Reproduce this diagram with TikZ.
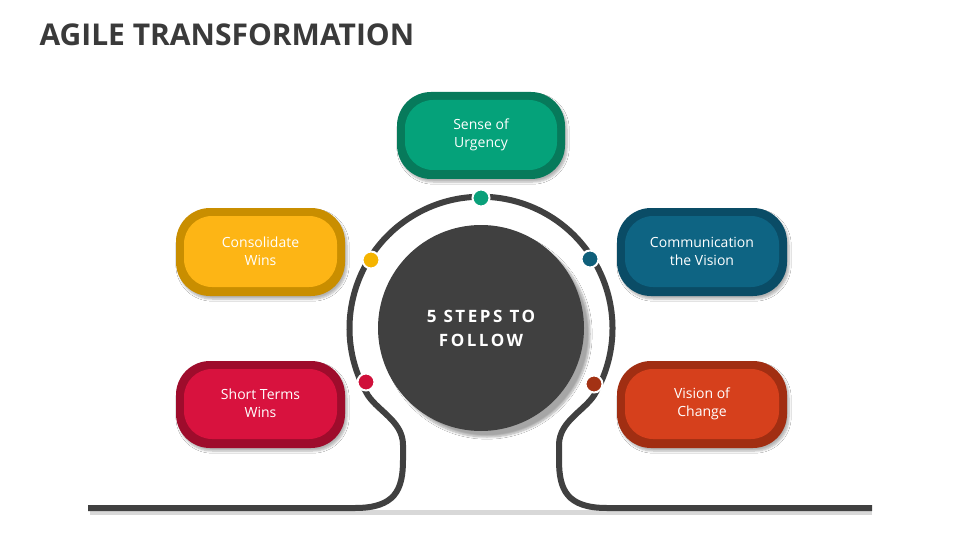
\documentclass[tikz,border=0pt]{standalone}
\usepackage{fontspec}
\setmainfont{Open Sans}
\usetikzlibrary{shadows.blur}
\definecolor{ring}{HTML}{404040}
\definecolor{title}{HTML}{3A3A3A}
\tikzset{
  outerbox/.style={rounded corners=34pt, blur shadow={shadow xshift=2pt,shadow yshift=-3pt,shadow blur steps=6,shadow opacity=30}},
  innerbox/.style={rounded corners=28pt},
  lbl/.style={text=white, font=\fontsize{14}{18}\selectfont, align=center},
  dot/.style={circle, draw=white, line width=2pt, minimum size=17pt, inner sep=0pt},
}
\begin{document}
\begin{tikzpicture}[x=1pt,y=-1pt]
\useasboundingbox (0,0) rectangle (960,540);
\fill[white] (0,0) rectangle (960,540);
\node[anchor=west, text=title, font=\bfseries\fontsize{30}{34}\selectfont] (t) at (36,35) {AGILE TRANSFORMATION};
% connector path
\draw[ring!40, line width=5pt, opacity=.5] (90,512) -- (872,512);
\draw[ring, line width=6pt]
  (88,508) -- (355,508) .. controls (395,508) and (403,490) .. (403,460) -- (403,445)
  .. controls (403,420) and (375,410) .. (366,392)
  arc[start angle=151, end angle=389, radius=131.5]
  .. controls (587,410) and (559,420) .. (559,445) -- (559,460)
  .. controls (559,490) and (567,508) .. (607,508) -- (872,508);
% centre
\node[circle, fill=ring, minimum size=206pt, inner sep=0pt, blur shadow={shadow xshift=6pt,shadow yshift=-6pt,shadow blur steps=10,shadow opacity=35}, text=white, align=center, font=\bfseries\fontsize{17}{24}\selectfont] (c) at (481,328) {\addfontfeature{LetterSpace=15}5 STEPS TO\\\addfontfeature{LetterSpace=15}FOLLOW};
% dots
\node[dot, fill={rgb,255:red,10;green,160;blue,122}] (d1) at (481,198) {};
\node[dot, fill={rgb,255:red,245;green,180;blue,0}] (d2) at (371,260) {};
\node[dot, fill={rgb,255:red,15;green,95;blue,122}] (d3) at (590,259) {};
\node[dot, fill={rgb,255:red,208;green,16;blue,58}] (d4) at (366,382) {};
\node[dot, fill={rgb,255:red,163;green,50;blue,20}] (d5) at (594,384) {};
% boxes
\newcommand{\stepbox}[7]{%
  \fill[outerbox, fill=#5] (#1,#2) rectangle (#3,#4);
  \fill[innerbox, fill=#6] (#1+8,#2+8) rectangle (#3-8,#4-9);
  \node[lbl] at ({(#1+#3)/2},{(#2+#4)/2-1}) {#7};}
\definecolor{go}{HTML}{077A5B}\definecolor{gi}{HTML}{05A27A}
\definecolor{yo}{HTML}{C98E00}\definecolor{yi}{HTML}{FDB515}
\definecolor{bo}{HTML}{0A4C66}\definecolor{bi}{HTML}{0E6483}
\definecolor{ro}{HTML}{9E0C2C}\definecolor{ri}{HTML}{D8123E}
\definecolor{oo}{HTML}{A12E12}\definecolor{oi}{HTML}{D6401C}
\stepbox{397}{92}{565}{179}{go}{gi}{Sense of\\Urgency}
\stepbox{176}{208}{345}{296}{yo}{yi}{Consolidate\\Wins}
\stepbox{617}{208}{787}{296}{bo}{bi}{Communication\\the Vision}
\stepbox{176}{361}{345}{448}{ro}{ri}{Short Terms\\Wins}
\stepbox{617}{361}{787}{448}{oo}{oi}{Vision of\\Change}
\end{tikzpicture}
\end{document}
